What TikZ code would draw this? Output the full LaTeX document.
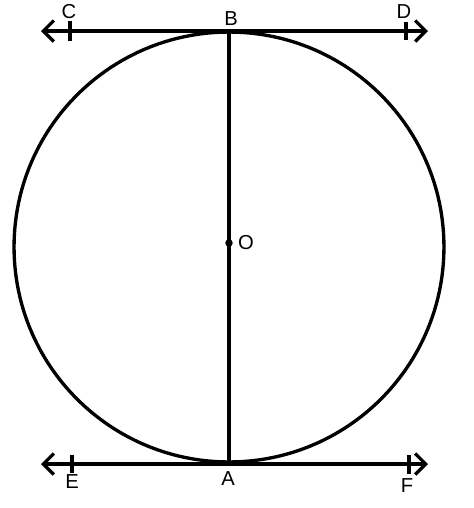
\documentclass[tikz,border=0pt]{standalone}
\usepackage{fontspec}
\setmainfont{Liberation Sans}
\usetikzlibrary{positioning,arrows.meta}

\tikzset{
	tangent/.style={line width=1.9pt,arrows={Straight Barb[length=6pt,width=12pt,line width=1.9pt]-Straight Barb[length=6pt,width=12pt,line width=1.9pt]}},
	tick/.style={line width=1.9pt},
	lbl/.style={font=\fontsize{11.5}{13}\selectfont,inner sep=0pt}
}

\begin{document}
\begin{tikzpicture}[x=0.02cm,y=-0.02cm]
	\useasboundingbox (0,0) rectangle (474,508);

	% circle with centre O
	\coordinate (O) at (229,247);
	\draw[line width=1.9pt] (O) circle[radius=4.3cm];
	\fill (229,243) circle[radius=0.075cm];
	\node[lbl] (Olbl) at (246,243) {O};

	% diameter AB
	\coordinate (B) at (229,31);
	\coordinate (A) at (229,463);
	\draw[line width=1.9pt] (B) -- (A);
	\node[lbl] (Blbl) at (231,19) {B};
	\node[lbl] (Albl) at (228,479) {A};

	% tangent CD at B
	\coordinate (CDl) at (41,31);
	\coordinate (CDr) at (428,31);
	\draw[tangent] (CDl) -- (CDr);
	\coordinate (C) at (70,31);
	\coordinate (D) at (406,31);
	\draw[tick] ([yshift=-0.19cm]C) -- ([yshift=0.21cm]C);
	\draw[tick] ([yshift=-0.17cm]D) -- ([yshift=0.19cm]D);
	\node[lbl] (Clbl) at (69,12) {C};
	\node[lbl] (Dlbl) at (404,12) {D};

	% tangent EF at A
	\coordinate (EFl) at (41,464);
	\coordinate (EFr) at (428,464);
	\draw[tangent] (EFl) -- (EFr);
	\coordinate (E) at (72,464);
	\coordinate (F) at (409,464);
	\draw[tick] ([yshift=-0.18cm]E) -- ([yshift=0.18cm]E);
	\draw[tick] ([yshift=-0.2cm]F) -- ([yshift=0.18cm]F);
	\node[lbl] (Elbl) at (72,482) {E};
	\node[lbl] (Flbl) at (407,486) {F};
\end{tikzpicture}
\end{document}
